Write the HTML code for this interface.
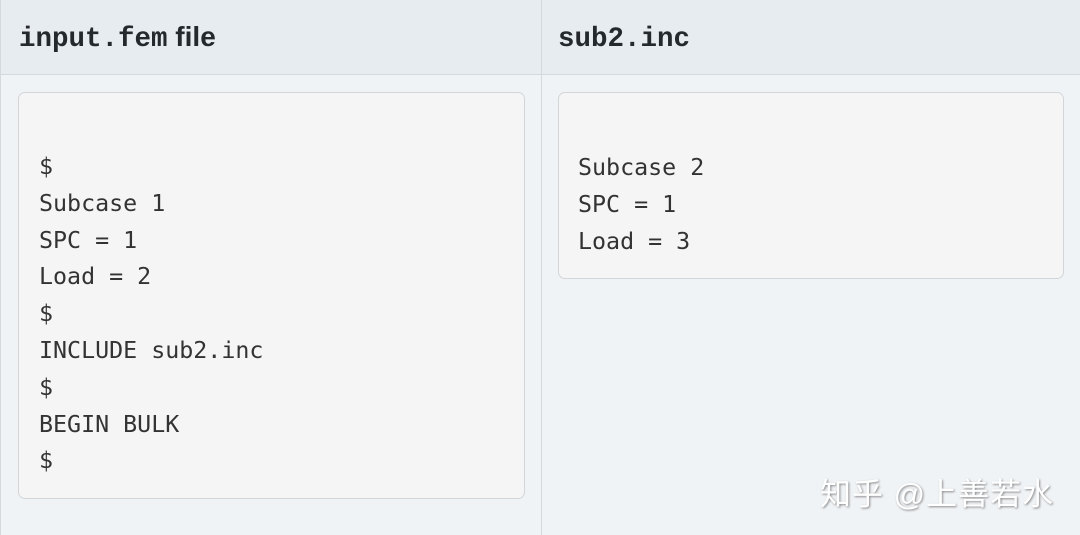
<!DOCTYPE html>
<html><head><meta charset="utf-8"><style>
html,body{margin:0;padding:0}
body{width:1080px;height:535px;position:relative;overflow:hidden;background:#f0f3f6;font-family:"Liberation Sans",sans-serif}
.hdr{position:absolute;left:0;top:0;width:1080px;height:74px;background:#e7ecf0;border-bottom:1px solid #d4d9de}
.vl{position:absolute;left:541px;top:0;width:1px;height:535px;background:#d4d9de}
.vl0{position:absolute;left:0;top:0;width:1px;height:535px;background:#d4d9de}
.h{position:absolute;top:21px;font-size:28px;font-weight:bold;color:#24292e;white-space:nowrap}
.h .m{font-family:"Liberation Mono",monospace;font-size:27.5px}
.box{position:absolute;background:#f5f5f5;border:1px solid #d3d6d9;border-radius:7px;box-sizing:border-box}
pre{position:absolute;margin:0;font-family:"DejaVu Sans Mono",monospace;font-size:23.3px;line-height:36.8px;color:#333}
.wm{position:absolute;left:820px;top:469px;font-family:"Liberation Sans","Noto Sans CJK SC",sans-serif;font-size:31px;color:#fff;text-shadow:1px 1px 2px #888;letter-spacing:1px}
</style></head><body>
<div class="hdr"></div>
<div class="vl0"></div>
<div class="vl"></div>
<div class="h" style="left:19px"><span class="m">input.fem</span> file</div>
<div class="h" style="left:558px"><span class="m">sub2.inc</span></div>
<div class="box" style="left:18px;top:92px;width:507px;height:407px"></div>
<pre style="left:39px;top:149px">$
Subcase 1
SPC = 1
Load = 2
$
INCLUDE sub2.inc
$
BEGIN BULK
$</pre>
<div class="box" style="left:558px;top:92px;width:506px;height:187px"></div>
<pre style="left:578px;top:150px">Subcase 2
SPC = 1
Load = 3</pre>
<div class="wm">知乎 @上善若水</div>
</body></html>
